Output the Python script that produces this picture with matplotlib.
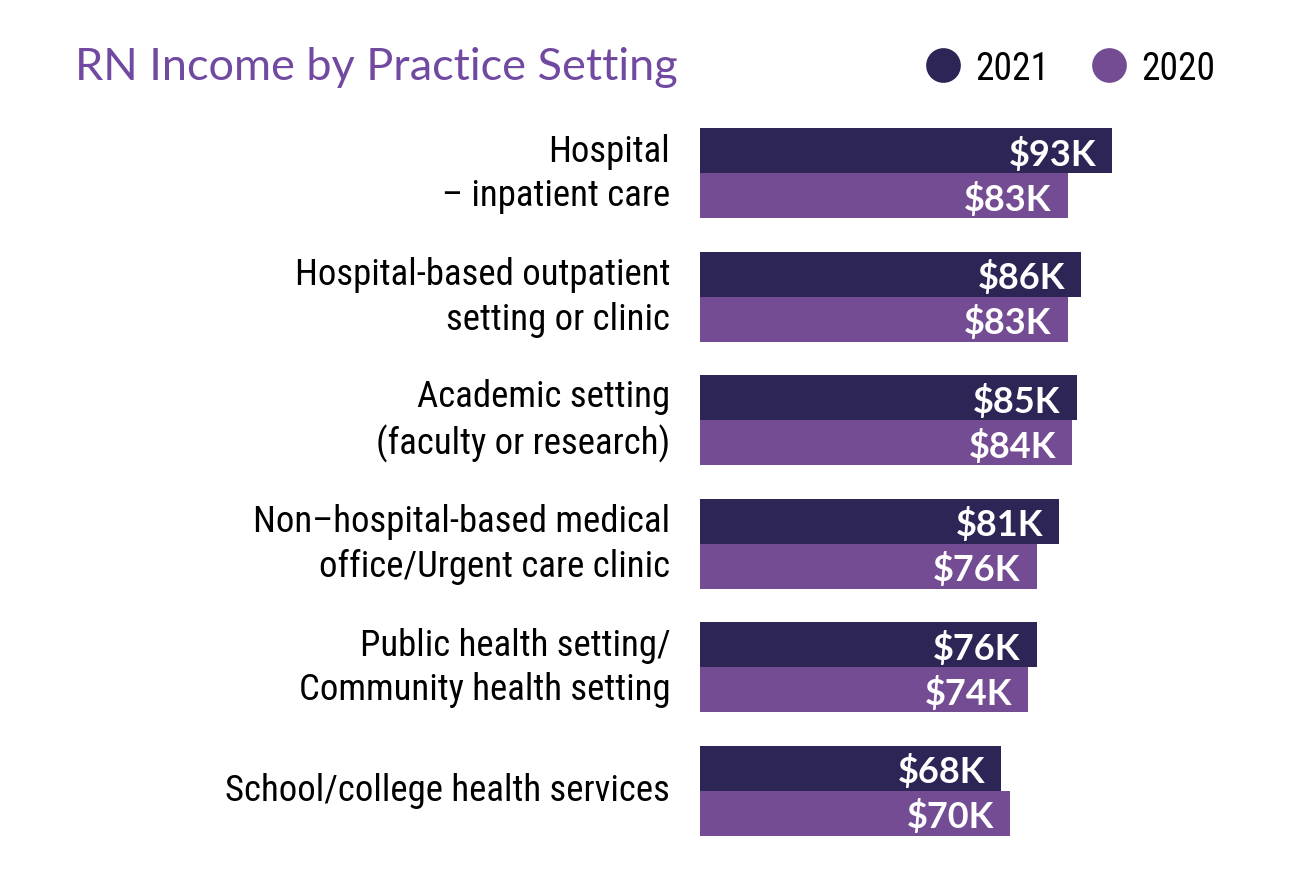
import matplotlib
matplotlib.use("Agg")
import matplotlib.pyplot as plt
from matplotlib.lines import Line2D
import numpy as np

categories = [
    "Hospital\n\u2013 inpatient care",
    "Hospital-based outpatient\nsetting or clinic",
    "Academic setting\n(faculty or research)",
    "Non\u2013hospital-based medical\noffice/Urgent care clinic",
    "Public health setting/\nCommunity health setting",
    "School/college health services",
]
values_2021 = [93, 86, 85, 81, 76, 68]
values_2020 = [83, 83, 84, 76, 74, 70]
series_names = ["2021", "2020"]

c2021 = "#2E2557"
c2020 = "#744C94"
title_color = "#7149A0"

label_font = ["Roboto Condensed", "Liberation Sans Narrow", "Roboto", "DejaVu Sans"]
value_font = ["Lato", "Open Sans", "DejaVu Sans"]

W, H = 1290, 878
fig = plt.figure(figsize=(W / 100, H / 100), dpi=100)

px_per_unit_x = 4.43
x0_px = 700
ax = fig.add_axes([x0_px / W, 0, 1 - x0_px / W, 1])
ax.set_xlim(0, (W - x0_px) / px_per_unit_x)
gap = 123.5
top_center = 174
ax.set_ylim((H - top_center) / gap, -top_center / gap)
ax.axis("off")

y = np.arange(len(categories))
bh = 45 / gap
ax.barh(y - bh / 2, values_2021, height=bh, color=c2021, edgecolor="none")
ax.barh(y + bh / 2, values_2020, height=bh, color=c2020, edgecolor="none")

for i in range(len(categories)):
    for v, yy in ((values_2021[i], y[i] - bh / 2), (values_2020[i], y[i] + bh / 2)):
        ax.annotate(f"${v}K", xy=(v, yy), xytext=(-11.5, 0), textcoords="offset points",
                    ha="right", va="center_baseline", color="white", fontsize=26,
                    fontweight="bold", family=value_font)
    ax.annotate(categories[i], xy=(0, y[i]), xytext=(-21.5, 0), textcoords="offset points",
                ha="right", va="center", color="black", fontsize=26.5,
                family=label_font, linespacing=1.32, annotation_clip=False)

fig.text(75 / W, 1 - 80 / H, "RN Income by Practice Setting", color=title_color,
         fontsize=32.5, family=value_font, va="baseline", ha="left")

handles = [Line2D([], [], marker="o", ls="", ms=25, color=c, markeredgewidth=0)
           for c in (c2021, c2020)]
leg = fig.legend(handles, series_names, loc="center right",
                 bbox_to_anchor=(1215 / W, 1 - 69 / H), ncol=2, frameon=False,
                 prop={"family": label_font, "size": 27},
                 handletextpad=0.35, columnspacing=1.1, handlelength=1.0,
                 borderaxespad=0, borderpad=0)

fig.savefig("out.png", dpi=100)
